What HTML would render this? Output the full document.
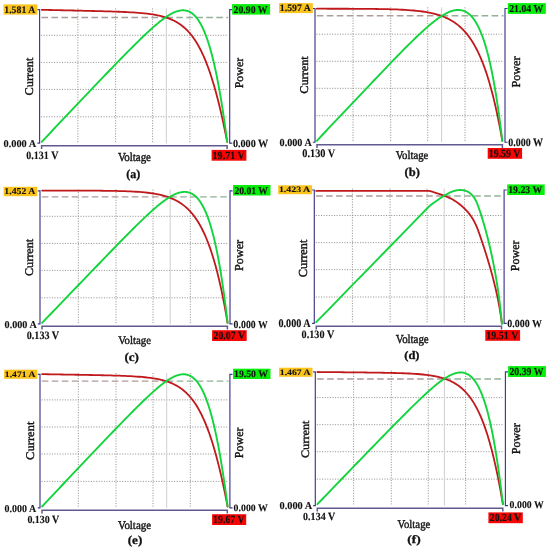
<!DOCTYPE html>
<html><head><meta charset="utf-8"><title>I-V and P-V curves</title>
<style>
html,body{margin:0;padding:0;background:#fff;}
body{width:549px;height:550px;overflow:hidden;}
svg{display:block;filter:blur(0.3px);}
svg text{font-family:"Liberation Serif",serif;font-size:200px;text-rendering:geometricPrecision;}
.tb{font-weight:bold;fill:#111;stroke:#111;stroke-width:2;}
.tc{font-weight:bold;fill:#111;stroke:#111;stroke-width:5;}
.tr{font-weight:normal;fill:#161616;stroke:#161616;stroke-width:7;}
.gd{stroke:#8d8a86;stroke-width:0.9;stroke-dasharray:1.1 1.5;fill:none;}
.dr{stroke:#ad9c9c;stroke-width:1.35;stroke-dasharray:6.6 3.4;fill:none;}
.dg{stroke:#94b097;stroke-width:1.35;stroke-dasharray:6.6 3.4;fill:none;}
.cr{stroke:#c0191c;stroke-width:1.8;fill:none;stroke-linejoin:round;stroke-linecap:round;}
.cg{stroke:#12d43c;stroke-width:1.9;fill:none;stroke-linejoin:round;stroke-linecap:round;}
.ax{stroke:#3e3889;stroke-width:1.15;fill:none;}
.bax{stroke:#605a92;stroke-width:1.5;fill:none;}
</style></head>
<body>
<svg width="549" height="550" viewBox="0 0 549 550">
<rect width="549" height="550" fill="#ffffff"/>
<line x1="77.90" y1="8.40" x2="77.90" y2="143.30" class="gd"/>
<line x1="115.60" y1="8.40" x2="115.60" y2="143.30" class="gd"/>
<line x1="152.60" y1="8.40" x2="152.60" y2="143.30" class="gd"/>
<line x1="189.90" y1="8.40" x2="189.90" y2="143.30" class="gd"/>
<line x1="41.10" y1="35.30" x2="228.20" y2="35.30" class="gd"/>
<line x1="41.10" y1="62.40" x2="228.20" y2="62.40" class="gd"/>
<line x1="41.10" y1="89.40" x2="228.20" y2="89.40" class="gd"/>
<line x1="41.10" y1="116.80" x2="228.20" y2="116.80" class="gd"/>
<line x1="166.30" y1="8.40" x2="166.30" y2="143.40" stroke="#cfcfcf" stroke-width="1"/>
<line x1="41.40" y1="17.50" x2="166.30" y2="17.50" class="dr"/>
<line x1="166.30" y1="17.50" x2="228.20" y2="17.50" class="dg"/>
<polyline points="41.70,9.83 44.55,9.89 47.41,9.95 50.26,10.02 53.12,10.08 55.97,10.14 58.82,10.20 61.68,10.26 64.53,10.33 67.38,10.39 70.24,10.45 73.09,10.52 75.95,10.58 78.80,10.64 81.65,10.71 84.51,10.78 87.36,10.84 90.22,10.91 93.07,10.98 95.92,11.06 98.78,11.13 101.63,11.21 104.48,11.29 107.34,11.37 110.19,11.46 113.05,11.55 115.90,11.65 118.75,11.75 121.61,11.87 124.46,11.99 127.32,12.13 130.17,12.28 133.02,12.45 135.88,12.64 138.73,12.85 141.58,13.10 144.44,13.37 147.29,13.69 150.15,14.06 153.00,14.48 153.62,14.58 154.25,14.69 154.87,14.80 155.49,14.91 156.12,15.02 156.74,15.14 157.36,15.27 157.99,15.40 158.61,15.53 159.24,15.66 159.86,15.81 160.48,15.95 161.11,16.10 161.73,16.26 162.35,16.42 162.98,16.59 163.60,16.76 164.22,16.94 164.85,17.13 165.47,17.32 166.09,17.52 166.72,17.72 167.34,17.93 167.96,18.15 168.59,18.38 169.21,18.62 169.84,18.86 170.46,19.11 171.08,19.37 171.71,19.64 172.33,19.92 172.95,20.21 173.58,20.51 174.20,20.82 174.82,21.15 175.45,21.48 176.07,21.82 176.69,22.18 177.32,22.55 177.94,22.93 178.56,23.32 179.19,23.73 179.81,24.15 180.44,24.59 181.06,25.04 181.68,25.50 182.31,25.99 182.93,26.48 183.55,27.00 184.18,27.53 184.80,28.08 185.42,28.65 186.05,29.24 186.67,29.85 187.29,30.48 187.92,31.13 188.54,31.80 189.16,32.49 189.79,33.21 190.41,33.95 191.04,34.71 191.66,35.49 192.28,36.31 192.91,37.14 193.53,38.01 194.15,38.90 194.78,39.82 195.40,40.77 196.02,41.74 196.65,42.75 197.27,43.79 197.89,44.86 198.52,45.96 199.14,47.09 199.76,48.26 200.39,49.46 201.01,50.69 201.64,51.97 202.26,53.27 202.88,54.62 203.51,56.00 204.13,57.42 204.75,58.88 205.38,60.38 206.00,61.92 206.62,63.49 207.25,65.12 207.87,66.78 208.49,68.49 209.12,70.24 209.74,72.03 210.36,73.87 210.99,75.75 211.61,77.68 212.24,79.66 212.86,81.68 213.48,83.75 214.11,85.86 214.73,88.03 215.35,90.24 215.98,92.50 216.60,94.82 217.22,97.18 217.85,99.59 218.47,102.05 219.09,104.56 219.72,107.12 220.34,109.74 220.96,112.40 221.59,115.12 222.21,117.89 222.84,120.71 223.46,123.58 224.08,126.50 224.71,129.48 225.33,132.50 225.95,135.58 226.58,138.72 227.20,141.90" class="cr"/>
<polyline points="41.70,141.90 44.55,138.86 47.41,135.82 50.26,132.78 53.12,129.75 55.97,126.72 58.82,123.69 61.68,120.67 64.53,117.65 67.38,114.63 70.24,111.61 73.09,108.60 75.95,105.59 78.80,102.59 81.65,99.58 84.51,96.58 87.36,93.59 90.22,90.59 93.07,87.61 95.92,84.62 98.78,81.64 101.63,78.66 104.48,75.69 107.34,72.73 110.19,69.77 113.05,66.82 115.90,63.87 118.75,60.94 121.61,58.01 124.46,55.10 127.32,52.20 130.17,49.32 133.02,46.46 135.88,43.62 138.73,40.81 141.58,38.03 144.44,35.29 147.29,32.60 150.15,29.97 153.00,27.41 153.62,26.86 154.25,26.31 154.87,25.77 155.49,25.23 156.12,24.70 156.74,24.17 157.36,23.65 157.99,23.13 158.61,22.62 159.24,22.11 159.86,21.61 160.48,21.12 161.11,20.63 161.73,20.15 162.35,19.67 162.98,19.20 163.60,18.74 164.22,18.29 164.85,17.85 165.47,17.41 166.09,16.98 166.72,16.56 167.34,16.15 167.96,15.75 168.59,15.36 169.21,14.99 169.84,14.62 170.46,14.26 171.08,13.91 171.71,13.58 172.33,13.26 172.95,12.95 173.58,12.66 174.20,12.38 174.82,12.12 175.45,11.87 176.07,11.63 176.69,11.42 177.32,11.22 177.94,11.04 178.56,10.87 179.19,10.73 179.81,10.60 180.44,10.50 181.06,10.42 181.68,10.35 182.31,10.32 182.93,10.30 183.55,10.31 184.18,10.35 184.80,10.41 185.42,10.50 186.05,10.61 186.67,10.76 187.29,10.93 187.92,11.14 188.54,11.37 189.16,11.64 189.79,11.95 190.41,12.29 191.04,12.66 191.66,13.08 192.28,13.53 192.91,14.02 193.53,14.55 194.15,15.13 194.78,15.74 195.40,16.41 196.02,17.11 196.65,17.87 197.27,18.67 197.89,19.53 198.52,20.43 199.14,21.39 199.76,22.40 200.39,23.47 201.01,24.59 201.64,25.77 202.26,27.02 202.88,28.32 203.51,29.68 204.13,31.11 204.75,32.61 205.38,34.17 206.00,35.80 206.62,37.50 207.25,39.28 207.87,41.12 208.49,43.04 209.12,45.04 209.74,47.11 210.36,49.26 210.99,51.49 211.61,53.81 212.24,56.20 212.86,58.68 213.48,61.25 214.11,63.90 214.73,66.64 215.35,69.48 215.98,72.40 216.60,75.41 217.22,78.52 217.85,81.73 218.47,85.03 219.09,88.42 219.72,91.92 220.34,95.51 220.96,99.21 221.59,103.00 222.21,106.90 222.84,110.91 223.46,115.01 224.08,119.23 224.71,123.54 225.33,127.97 225.95,132.50 226.58,137.15 227.20,141.90" class="cg"/>
<polyline points="37.40,9.60 39.60,9.60 39.60,143.10 37.40,143.10" class="ax"/>
<polyline points="232.30,9.60 229.70,9.60 229.70,143.10 232.30,143.10" class="ax"/>
<polyline points="41.60,149.00 41.60,145.80 227.10,145.80 227.10,149.00" class="bax"/>
<rect x="3.5" y="4.4" width="33.80" height="10.20" fill="#fbc31c"/>
<text transform="matrix(0.04919 0 0 0.05 4.21299 12.75)" class="tb">1.581 A</text>
<rect x="232.1" y="4.1" width="38.00" height="10.50" fill="#06ee0a"/>
<text transform="matrix(0.04891 0 0 0.05074 233.50876 12.64779)" class="tb">20.90 W</text>
<rect x="211.6" y="149.90" width="34.80" height="10.8" fill="#f70505"/>
<text transform="matrix(0.05016 0 0 0.05556 212.59743 158.93333)" class="tb">19.71 V</text>
<text transform="matrix(0.05128 0 0 0.05147 3.58974 147.14559)" class="tb">0.000 A</text>
<text transform="matrix(0.05016 0 0 0.05662 26.29873 158.53015)" class="tb">0.131 V</text>
<text transform="matrix(0.05066 0 0 0.05515 232.89474 147.13456)" class="tb">0.000 W</text>
<text transform="matrix(0.05442 0 0 0.06099 117.89115 160.67747)" class="tr">Voltage</text>
<text transform="matrix(0.06065 0 0 0.06154 126.15417 177.95385)" class="tc">(a)</text>
<text transform="matrix(0 -0.0619 0.05821 0 32.88358 95.49517)" class="tr">Current</text>
<text transform="matrix(0 -0.06004 0.05865 0 242.98271 88.36024)" class="tr">Power</text>
<line x1="353.00" y1="7.30" x2="353.00" y2="142.20" class="gd"/>
<line x1="390.70" y1="7.30" x2="390.70" y2="142.20" class="gd"/>
<line x1="427.70" y1="7.30" x2="427.70" y2="142.20" class="gd"/>
<line x1="465.00" y1="7.30" x2="465.00" y2="142.20" class="gd"/>
<line x1="316.50" y1="34.20" x2="503.50" y2="34.20" class="gd"/>
<line x1="316.50" y1="61.30" x2="503.50" y2="61.30" class="gd"/>
<line x1="316.50" y1="88.30" x2="503.50" y2="88.30" class="gd"/>
<line x1="316.50" y1="115.70" x2="503.50" y2="115.70" class="gd"/>
<line x1="441.60" y1="7.30" x2="441.60" y2="142.30" stroke="#cfcfcf" stroke-width="1"/>
<line x1="316.80" y1="15.70" x2="441.60" y2="15.70" class="dr"/>
<line x1="441.60" y1="15.70" x2="503.50" y2="15.70" class="dg"/>
<polyline points="316.80,8.71 319.65,8.72 322.51,8.72 325.36,8.72 328.22,8.73 331.07,8.73 333.92,8.73 336.78,8.74 339.63,8.74 342.48,8.75 345.34,8.76 348.19,8.77 351.05,8.78 353.90,8.79 356.75,8.80 359.61,8.82 362.46,8.84 365.32,8.86 368.17,8.89 371.02,8.91 373.88,8.95 376.73,8.98 379.58,9.03 382.44,9.08 385.29,9.14 388.15,9.20 391.00,9.28 393.85,9.37 396.71,9.47 399.56,9.59 402.42,9.73 405.27,9.89 408.12,10.07 410.98,10.28 413.83,10.52 416.68,10.80 419.54,11.12 422.39,11.50 425.25,11.92 428.10,12.42 428.72,12.53 429.35,12.66 429.97,12.78 430.59,12.91 431.22,13.04 431.84,13.18 432.46,13.32 433.09,13.47 433.71,13.62 434.34,13.77 434.96,13.93 435.58,14.10 436.21,14.27 436.83,14.44 437.45,14.63 438.08,14.81 438.70,15.00 439.32,15.20 439.95,15.41 440.57,15.62 441.19,15.84 441.82,16.06 442.44,16.29 443.06,16.53 443.69,16.78 444.31,17.03 444.94,17.29 445.56,17.56 446.18,17.84 446.81,18.13 447.43,18.43 448.05,18.73 448.68,19.05 449.30,19.37 449.92,19.71 450.55,20.05 451.17,20.41 451.79,20.77 452.42,21.15 453.04,21.54 453.66,21.94 454.29,22.35 454.91,22.78 455.54,23.22 456.16,23.67 456.78,24.14 457.41,24.62 458.03,25.12 458.65,25.63 459.28,26.16 459.90,26.70 460.52,27.26 461.15,27.84 461.77,28.43 462.39,29.04 463.02,29.67 463.64,30.32 464.26,30.99 464.89,31.68 465.51,32.39 466.14,33.12 466.76,33.87 467.38,34.65 468.01,35.45 468.63,36.27 469.25,37.12 469.88,37.99 470.50,38.89 471.12,39.82 471.75,40.77 472.37,41.75 472.99,42.76 473.62,43.80 474.24,44.87 474.86,45.97 475.49,47.10 476.11,48.27 476.74,49.47 477.36,50.70 477.98,51.97 478.61,53.28 479.23,54.62 479.85,56.00 480.48,57.42 481.10,58.89 481.72,60.39 482.35,61.93 482.97,63.52 483.59,65.16 484.22,66.84 484.84,68.56 485.46,70.34 486.09,72.16 486.71,74.03 487.34,75.96 487.96,77.93 488.58,79.96 489.21,82.05 489.83,84.19 490.45,86.39 491.08,88.65 491.70,90.96 492.32,93.34 492.95,95.78 493.57,98.29 494.19,100.86 494.82,103.49 495.44,106.20 496.06,108.97 496.69,111.81 497.31,114.73 497.94,117.72 498.56,120.78 499.18,123.92 499.81,127.13 500.43,130.43 501.05,133.80 501.68,137.26 502.30,140.80" class="cr"/>
<polyline points="316.80,140.80 319.65,137.78 322.51,134.76 325.36,131.74 328.22,128.72 331.07,125.71 333.92,122.69 336.78,119.67 339.63,116.65 342.48,113.64 345.34,110.62 348.19,107.60 351.05,104.59 353.90,101.58 356.75,98.56 359.61,95.55 362.46,92.54 365.32,89.53 368.17,86.53 371.02,83.53 373.88,80.53 376.73,77.53 379.58,74.54 382.44,71.55 385.29,68.58 388.15,65.60 391.00,62.64 393.85,59.69 396.71,56.75 399.56,53.83 402.42,50.93 405.27,48.04 408.12,45.18 410.98,42.35 413.83,39.56 416.68,36.80 419.54,34.10 422.39,31.45 425.25,28.86 428.10,26.36 428.72,25.82 429.35,25.29 429.97,24.76 430.59,24.24 431.22,23.73 431.84,23.21 432.46,22.71 433.09,22.21 433.71,21.71 434.34,21.22 434.96,20.74 435.58,20.26 436.21,19.79 436.83,19.33 437.45,18.88 438.08,18.43 438.70,17.99 439.32,17.55 439.95,17.13 440.57,16.71 441.19,16.30 441.82,15.90 442.44,15.51 443.06,15.13 443.69,14.76 444.31,14.40 444.94,14.05 445.56,13.72 446.18,13.39 446.81,13.07 447.43,12.77 448.05,12.48 448.68,12.20 449.30,11.94 449.92,11.69 450.55,11.45 451.17,11.23 451.79,11.03 452.42,10.84 453.04,10.67 453.66,10.51 454.29,10.37 454.91,10.25 455.54,10.15 456.16,10.07 456.78,10.01 457.41,9.97 458.03,9.95 458.65,9.95 459.28,9.98 459.90,10.03 460.52,10.10 461.15,10.20 461.77,10.33 462.39,10.48 463.02,10.66 463.64,10.87 464.26,11.11 464.89,11.38 465.51,11.68 466.14,12.01 466.76,12.38 467.38,12.78 468.01,13.22 468.63,13.69 469.25,14.21 469.88,14.76 470.50,15.35 471.12,15.99 471.75,16.66 472.37,17.39 472.99,18.15 473.62,18.97 474.24,19.83 474.86,20.75 475.49,21.71 476.11,22.73 476.74,23.81 477.36,24.94 477.98,26.13 478.61,27.38 479.23,28.69 479.85,30.06 480.48,31.50 481.10,33.01 481.72,34.59 482.35,36.23 482.97,37.96 483.59,39.75 484.22,41.63 484.84,43.58 485.46,45.61 486.09,47.73 486.71,49.94 487.34,52.23 487.96,54.62 488.58,57.10 489.21,59.68 489.83,62.35 490.45,65.12 491.08,68.00 491.70,70.99 492.32,74.08 492.95,77.29 493.57,80.61 494.19,84.05 494.82,87.61 495.44,91.29 496.06,95.10 496.69,99.04 497.31,103.11 497.94,107.31 498.56,111.66 499.18,116.14 499.81,120.77 500.43,125.55 501.05,130.48 501.68,135.56 502.30,140.80" class="cg"/>
<polyline points="312.80,8.50 315.00,8.50 315.00,142.20 312.80,142.20" class="ax"/>
<polyline points="507.60,8.50 505.00,8.50 505.00,142.20 507.60,142.20" class="ax"/>
<polyline points="317.00,147.90 317.00,144.70 502.40,144.70 502.40,147.90" class="bax"/>
<rect x="279.1" y="3.1" width="33.70" height="10.00" fill="#fbc31c"/>
<text transform="matrix(0.04903 0 0 0.04889 279.81558 11.25333)" class="tb">1.597 A</text>
<rect x="507.8" y="3.1" width="38.00" height="10.80" fill="#06ee0a"/>
<text transform="matrix(0.04891 0 0 0.05294 509.20876 11.94118)" class="tb">21.04 W</text>
<rect x="487.7" y="148.00" width="34.40" height="10.8" fill="#f70505"/>
<text transform="matrix(0.04952 0 0 0.05556 488.70772 157.03333)" class="tb">19.59 V</text>
<text transform="matrix(0.0508 0 0 0.05515 279.59359 145.63456)" class="tb">0.000 A</text>
<text transform="matrix(0.05143 0 0 0.05735 302.28857 156.72794)" class="tb">0.130 V</text>
<text transform="matrix(0.04964 0 0 0.05662 508.30292 145.83015)" class="tb">0.000 W</text>
<text transform="matrix(0.05376 0 0 0.05934 395.69249 159.34835)" class="tr">Voltage</text>
<text transform="matrix(0.06256 0 0 0.06099 404.537 176.27747)" class="tc">(b)</text>
<text transform="matrix(0 -0.0614 0.05821 0 307.68358 93.79118)" class="tr">Current</text>
<text transform="matrix(0 -0.06064 0.06015 0 520.0797 87.56382)" class="tr">Power</text>
<line x1="78.30" y1="189.40" x2="78.30" y2="324.30" class="gd"/>
<line x1="116.00" y1="189.40" x2="116.00" y2="324.30" class="gd"/>
<line x1="153.00" y1="189.40" x2="153.00" y2="324.30" class="gd"/>
<line x1="190.30" y1="189.40" x2="190.30" y2="324.30" class="gd"/>
<line x1="41.50" y1="216.30" x2="228.50" y2="216.30" class="gd"/>
<line x1="41.50" y1="243.40" x2="228.50" y2="243.40" class="gd"/>
<line x1="41.50" y1="270.40" x2="228.50" y2="270.40" class="gd"/>
<line x1="41.50" y1="297.80" x2="228.50" y2="297.80" class="gd"/>
<line x1="170.20" y1="189.40" x2="170.20" y2="324.40" stroke="#cfcfcf" stroke-width="1"/>
<line x1="41.80" y1="196.90" x2="170.20" y2="196.90" class="dr"/>
<line x1="170.20" y1="196.90" x2="228.50" y2="196.90" class="dg"/>
<polyline points="42.10,190.57 44.95,190.57 47.81,190.57 50.66,190.58 53.52,190.58 56.37,190.58 59.22,190.58 62.08,190.59 64.93,190.59 67.78,190.59 70.64,190.60 73.49,190.60 76.35,190.61 79.20,190.62 82.05,190.63 84.91,190.64 87.76,190.65 90.62,190.67 93.47,190.68 96.32,190.70 99.18,190.72 102.03,190.75 104.88,190.78 107.74,190.82 110.59,190.86 113.45,190.91 116.30,190.97 119.15,191.03 122.01,191.11 124.86,191.20 127.72,191.31 130.57,191.43 133.42,191.57 136.28,191.74 139.13,191.93 141.98,192.16 144.84,192.43 147.69,192.74 150.55,193.09 153.40,193.51 154.02,193.61 154.65,193.72 155.27,193.82 155.89,193.94 156.52,194.05 157.14,194.17 157.76,194.29 158.39,194.42 159.01,194.55 159.64,194.68 160.26,194.82 160.88,194.97 161.51,195.12 162.13,195.27 162.75,195.43 163.38,195.60 164.00,195.77 164.62,195.94 165.25,196.13 165.87,196.31 166.49,196.51 167.12,196.71 167.74,196.92 168.36,197.13 168.99,197.36 169.61,197.58 170.24,197.82 170.86,198.07 171.48,198.32 172.11,198.58 172.73,198.85 173.35,199.13 173.98,199.42 174.60,199.72 175.22,200.03 175.85,200.35 176.47,200.68 177.09,201.02 177.72,201.37 178.34,201.73 178.96,202.11 179.59,202.49 180.21,202.89 180.84,203.31 181.46,203.73 182.08,204.17 182.71,204.63 183.33,205.10 183.95,205.59 184.58,206.09 185.20,206.61 185.82,207.14 186.45,207.69 187.07,208.26 187.69,208.85 188.32,209.46 188.94,210.09 189.56,210.73 190.19,211.40 190.81,212.09 191.44,212.80 192.06,213.54 192.68,214.30 193.31,215.08 193.93,215.88 194.55,216.72 195.18,217.58 195.80,218.46 196.42,219.37 197.05,220.32 197.67,221.29 198.29,222.29 198.92,223.32 199.54,224.39 200.16,225.49 200.79,226.62 201.41,227.79 202.04,228.99 202.66,230.23 203.28,231.50 203.91,232.82 204.53,234.17 205.15,235.57 205.78,237.01 206.40,238.49 207.02,240.01 207.65,241.58 208.27,243.20 208.89,244.86 209.52,246.57 210.14,248.33 210.76,250.14 211.39,252.01 212.01,253.92 212.64,255.90 213.26,257.92 213.88,260.01 214.51,262.15 215.13,264.35 215.75,266.61 216.38,268.94 217.00,271.33 217.62,273.78 218.25,276.30 218.87,278.89 219.49,281.54 220.12,284.26 220.74,287.06 221.36,289.93 221.99,292.87 222.61,295.89 223.24,298.98 223.86,302.16 224.48,305.41 225.11,308.74 225.73,312.15 226.35,315.65 226.98,319.23 227.60,322.90" class="cr"/>
<polyline points="42.10,322.90 44.95,319.93 47.81,316.96 50.66,313.98 53.52,311.01 56.37,308.04 59.22,305.07 62.08,302.10 64.93,299.12 67.78,296.15 70.64,293.18 73.49,290.21 76.35,287.24 79.20,284.27 82.05,281.30 84.91,278.34 87.76,275.37 90.62,272.40 93.47,269.44 96.32,266.48 99.18,263.52 102.03,260.56 104.88,257.61 107.74,254.66 110.59,251.72 113.45,248.78 116.30,245.85 119.15,242.92 122.01,240.01 124.86,237.11 127.72,234.22 130.57,231.35 133.42,228.50 136.28,225.68 139.13,222.88 141.98,220.12 144.84,217.39 147.69,214.72 150.55,212.10 153.40,209.55 154.02,209.01 154.65,208.46 155.27,207.93 155.89,207.39 156.52,206.86 157.14,206.34 157.76,205.82 158.39,205.30 159.01,204.79 159.64,204.29 160.26,203.79 160.88,203.29 161.51,202.81 162.13,202.32 162.75,201.85 163.38,201.38 164.00,200.92 164.62,200.47 165.25,200.02 165.87,199.58 166.49,199.15 167.12,198.73 167.74,198.31 168.36,197.91 168.99,197.51 169.61,197.13 170.24,196.75 170.86,196.39 171.48,196.03 172.11,195.69 172.73,195.36 173.35,195.04 173.98,194.73 174.60,194.44 175.22,194.15 175.85,193.89 176.47,193.63 177.09,193.40 177.72,193.17 178.34,192.97 178.96,192.77 179.59,192.60 180.21,192.44 180.84,192.31 181.46,192.19 182.08,192.09 182.71,192.01 183.33,191.95 183.95,191.92 184.58,191.90 185.20,191.91 185.82,191.95 186.45,192.01 187.07,192.09 187.69,192.20 188.32,192.34 188.94,192.51 189.56,192.71 190.19,192.94 190.81,193.20 191.44,193.49 192.06,193.82 192.68,194.18 193.31,194.58 193.93,195.01 194.55,195.49 195.18,196.00 195.80,196.55 196.42,197.15 197.05,197.79 197.67,198.48 198.29,199.21 198.92,199.99 199.54,200.82 200.16,201.71 200.79,202.64 201.41,203.63 202.04,204.68 202.66,205.79 203.28,206.95 203.91,208.18 204.53,209.47 205.15,210.82 205.78,212.25 206.40,213.74 207.02,215.30 207.65,216.94 208.27,218.66 208.89,220.45 209.52,222.32 210.14,224.27 210.76,226.31 211.39,228.44 212.01,230.65 212.64,232.96 213.26,235.36 213.88,237.86 214.51,240.46 215.13,243.16 215.75,245.97 216.38,248.88 217.00,251.90 217.62,255.04 218.25,258.29 218.87,261.66 219.49,265.15 220.12,268.77 220.74,272.51 221.36,276.38 221.99,280.38 222.61,284.52 223.24,288.80 223.86,293.23 224.48,297.79 225.11,302.51 225.73,307.37 226.35,312.39 226.98,317.56 227.60,322.90" class="cg"/>
<polyline points="37.80,190.80 40.00,190.80 40.00,323.90 37.80,323.90" class="ax"/>
<polyline points="232.60,190.80 230.00,190.80 230.00,323.90 232.60,323.90" class="ax"/>
<polyline points="42.00,329.40 42.00,326.20 227.40,326.20 227.40,329.40" class="bax"/>
<rect x="3.6" y="186.8" width="33.70" height="9.40" fill="#fbc31c"/>
<text transform="matrix(0.04903 0 0 0.04444 4.31558 194.36667)" class="tb">1.452 A</text>
<rect x="233.0" y="185.0" width="37.50" height="10.50" fill="#06ee0a"/>
<text transform="matrix(0.04818 0 0 0.05074 234.4146 193.54779)" class="tb">20.01 W</text>
<rect x="212.1" y="330.20" width="34.60" height="10.8" fill="#f70505"/>
<text transform="matrix(0.04921 0 0 0.05515 213.50635 339.23456)" class="tb">20.07 V</text>
<text transform="matrix(0.0508 0 0 0.05294 4.59359 327.64118)" class="tb">0.000 A</text>
<text transform="matrix(0.05032 0 0 0.05662 26.79746 339.23015)" class="tb">0.133 V</text>
<text transform="matrix(0.0492 0 0 0.05368 233.60642 327.83897)" class="tb">0.000 W</text>
<text transform="matrix(0.05392 0 0 0.05769 118.19215 343.61923)" class="tr">Voltage</text>
<text transform="matrix(0.0652 0 0 0.06099 124.41324 360.67747)" class="tc">(c)</text>
<text transform="matrix(0 -0.06073 0.05896 0 32.68209 275.98586)" class="tr">Current</text>
<text transform="matrix(0 -0.06083 0.0609 0 243.2782 270.96501)" class="tr">Power</text>
<line x1="352.40" y1="188.60" x2="352.40" y2="323.50" class="gd"/>
<line x1="390.10" y1="188.60" x2="390.10" y2="323.50" class="gd"/>
<line x1="427.10" y1="188.60" x2="427.10" y2="323.50" class="gd"/>
<line x1="464.40" y1="188.60" x2="464.40" y2="323.50" class="gd"/>
<line x1="315.80" y1="215.50" x2="502.60" y2="215.50" class="gd"/>
<line x1="315.80" y1="242.60" x2="502.60" y2="242.60" class="gd"/>
<line x1="315.80" y1="269.60" x2="502.60" y2="269.60" class="gd"/>
<line x1="315.80" y1="297.00" x2="502.60" y2="297.00" class="gd"/>
<line x1="444.20" y1="188.60" x2="444.20" y2="323.60" stroke="#cfcfcf" stroke-width="1"/>
<line x1="316.10" y1="196.00" x2="444.20" y2="196.00" class="dr"/>
<line x1="444.20" y1="196.00" x2="502.60" y2="196.00" class="dg"/>
<polyline points="316.20,190.90 328.54,190.90 340.89,190.90 353.23,190.90 365.58,190.90 377.92,190.90 390.27,190.90 402.61,190.90 414.96,190.90 427.30,190.90 427.77,190.90 428.24,190.90 428.71,190.92 429.18,190.97 429.65,191.03 430.12,191.12 430.58,191.22 431.05,191.34 431.52,191.47 431.99,191.61 432.46,191.76 432.93,191.92 433.40,192.08 433.87,192.25 434.34,192.41 434.81,192.58 435.28,192.74 435.75,192.89 436.21,193.04 436.68,193.18 437.15,193.32 437.62,193.46 438.09,193.61 438.56,193.75 439.03,193.90 439.50,194.05 439.97,194.21 440.44,194.36 440.91,194.52 441.38,194.68 441.84,194.84 442.31,195.00 442.78,195.17 443.25,195.34 443.72,195.51 444.19,195.69 444.66,195.87 445.13,196.05 445.60,196.24 446.07,196.43 446.54,196.62 447.01,196.82 447.47,197.02 447.94,197.23 448.41,197.44 448.88,197.65 449.35,197.87 449.82,198.09 450.29,198.32 450.76,198.56 451.23,198.80 451.70,199.04 452.17,199.29 452.64,199.55 453.11,199.81 453.57,200.08 454.04,200.36 454.51,200.65 454.98,200.94 455.45,201.24 455.92,201.55 456.39,201.87 456.86,202.19 457.33,202.52 457.80,202.86 458.27,203.21 458.74,203.57 459.20,203.93 459.67,204.30 460.14,204.68 460.61,205.06 461.08,205.45 461.55,205.85 462.02,206.26 462.49,206.67 462.96,207.10 463.43,207.53 463.90,207.97 464.37,208.42 464.83,208.88 465.30,209.35 465.77,209.83 466.24,210.33 466.71,210.83 467.18,211.35 467.65,211.88 468.12,212.43 468.59,213.00 469.06,213.58 469.53,214.18 470.00,214.79 470.46,215.43 470.93,216.09 471.40,216.77 471.87,217.48 472.34,218.21 472.81,218.98 473.28,219.77 473.75,220.60 474.22,221.46 474.69,222.36 475.16,223.30 475.63,224.29 476.09,225.32 476.56,226.40 477.03,227.53 477.50,228.71 477.97,229.94 478.44,231.21 478.91,232.52 479.38,233.86 479.85,235.22 480.32,236.59 480.79,237.96 481.26,239.35 481.73,240.74 482.19,242.14 482.66,243.55 483.13,244.97 483.60,246.40 484.07,247.84 484.54,249.30 485.01,250.76 485.48,252.24 485.95,253.73 486.42,255.23 486.89,256.75 487.36,258.28 487.82,259.83 488.29,261.39 488.76,262.97 489.23,264.57 489.70,266.18 490.17,267.82 490.64,269.48 491.11,271.16 491.58,272.86 492.05,274.59 492.52,276.35 492.99,278.13 493.45,279.95 493.92,281.79 494.39,283.68 494.86,285.60 495.33,287.56 495.80,289.57 496.27,291.62 496.74,293.73 497.21,295.90 497.68,298.13 498.15,300.44 498.62,302.83 499.08,305.31 499.55,307.90 500.02,310.62 500.49,313.49 500.96,316.54 501.43,319.83 501.90,323.40" class="cr"/>
<polyline points="316.20,322.20 328.54,309.54 340.89,296.87 353.23,284.21 365.58,271.55 377.92,258.88 390.27,246.22 402.61,233.56 414.96,220.89 427.30,208.23 427.77,207.75 428.24,207.27 428.71,206.80 429.18,206.36 429.65,205.94 430.12,205.53 430.58,205.14 431.05,204.77 431.52,204.41 431.99,204.06 432.46,203.72 432.93,203.38 433.40,203.05 433.87,202.73 434.34,202.40 434.81,202.08 435.28,201.76 435.75,201.43 436.21,201.09 436.68,200.75 437.15,200.41 437.62,200.07 438.09,199.74 438.56,199.41 439.03,199.08 439.50,198.75 439.97,198.43 440.44,198.11 440.91,197.79 441.38,197.48 441.84,197.17 442.31,196.87 442.78,196.57 443.25,196.27 443.72,195.98 444.19,195.69 444.66,195.41 445.13,195.13 445.60,194.85 446.07,194.59 446.54,194.32 447.01,194.06 447.47,193.81 447.94,193.56 448.41,193.32 448.88,193.08 449.35,192.85 449.82,192.63 450.29,192.42 450.76,192.21 451.23,192.01 451.70,191.82 452.17,191.64 452.64,191.46 453.11,191.29 453.57,191.13 454.04,190.98 454.51,190.85 454.98,190.72 455.45,190.60 455.92,190.50 456.39,190.40 456.86,190.31 457.33,190.24 457.80,190.18 458.27,190.13 458.74,190.09 459.20,190.06 459.67,190.04 460.14,190.03 460.61,190.03 461.08,190.05 461.55,190.07 462.02,190.11 462.49,190.16 462.96,190.22 463.43,190.29 463.90,190.38 464.37,190.48 464.83,190.60 465.30,190.74 465.77,190.88 466.24,191.05 466.71,191.24 467.18,191.44 467.65,191.67 468.12,191.91 468.59,192.18 469.06,192.47 469.53,192.79 470.00,193.14 470.46,193.51 470.93,193.92 471.40,194.36 471.87,194.83 472.34,195.34 472.81,195.90 473.28,196.49 473.75,197.13 474.22,197.83 474.69,198.57 475.16,199.38 475.63,200.24 476.09,201.18 476.56,202.17 477.03,203.24 477.50,204.38 477.97,205.59 478.44,206.87 478.91,208.20 479.38,209.58 479.85,210.99 480.32,212.42 480.79,213.88 481.26,215.35 481.73,216.85 482.19,218.37 482.66,219.91 483.13,221.48 483.60,223.06 484.07,224.68 484.54,226.32 485.01,227.98 485.48,229.67 485.95,231.39 486.42,233.14 486.89,234.91 487.36,236.72 487.82,238.56 488.29,240.44 488.76,242.34 489.23,244.29 489.70,246.27 490.17,248.29 490.64,250.35 491.11,252.45 491.58,254.60 492.05,256.79 492.52,259.03 492.99,261.33 493.45,263.68 493.92,266.09 494.39,268.57 494.86,271.11 495.33,273.72 495.80,276.41 496.27,279.18 496.74,282.04 497.21,285.00 497.68,288.07 498.15,291.26 498.62,294.59 499.08,298.07 499.55,301.72 500.02,305.57 500.49,309.66 500.96,314.04 501.43,318.76 501.90,323.93" class="cg"/>
<polyline points="312.10,190.00 314.30,190.00 314.30,323.30 312.10,323.30" class="ax"/>
<polyline points="506.70,190.00 504.10,190.00 504.10,323.30 506.70,323.30" class="ax"/>
<polyline points="316.30,329.40 316.30,326.20 501.50,326.20 501.50,329.40" class="bax"/>
<rect x="278.2" y="185.3" width="33.90" height="8.90" fill="#fbc31c"/>
<text transform="matrix(0.04935 0 0 0.04074 278.91039 192.37778)" class="tb">1.423 A</text>
<rect x="507.2" y="184.4" width="37.50" height="10.60" fill="#06ee0a"/>
<text transform="matrix(0.04874 0 0 0.05185 508.22009 193.04444)" class="tb">19.23 W</text>
<rect x="485.3" y="330.00" width="34.80" height="10.8" fill="#f70505"/>
<text transform="matrix(0.05016 0 0 0.05556 486.29743 339.03333)" class="tb">19.51 V</text>
<text transform="matrix(0.0508 0 0 0.05735 278.49359 327.02794)" class="tb">0.000 A</text>
<text transform="matrix(0.05111 0 0 0.05662 301.59111 338.23015)" class="tb">0.130 V</text>
<text transform="matrix(0.04964 0 0 0.05368 507.30292 327.13897)" class="tb">0.000 W</text>
<text transform="matrix(0.05426 0 0 0.06044 395.69149 342.8011)" class="tr">Voltage</text>
<text transform="matrix(0.06211 0 0 0.05769 404.24097 358.61923)" class="tc">(d)</text>
<text transform="matrix(0 -0.0614 0.06119 0 307.47761 277.19118)" class="tr">Current</text>
<text transform="matrix(0 -0.06004 0.0609 0 518.7782 271.16024)" class="tr">Power</text>
<line x1="78.30" y1="373.00" x2="78.30" y2="507.90" class="gd"/>
<line x1="116.00" y1="373.00" x2="116.00" y2="507.90" class="gd"/>
<line x1="153.00" y1="373.00" x2="153.00" y2="507.90" class="gd"/>
<line x1="190.30" y1="373.00" x2="190.30" y2="507.90" class="gd"/>
<line x1="41.50" y1="399.90" x2="228.40" y2="399.90" class="gd"/>
<line x1="41.50" y1="427.00" x2="228.40" y2="427.00" class="gd"/>
<line x1="41.50" y1="454.00" x2="228.40" y2="454.00" class="gd"/>
<line x1="41.50" y1="481.40" x2="228.40" y2="481.40" class="gd"/>
<line x1="166.70" y1="373.00" x2="166.70" y2="508.00" stroke="#cfcfcf" stroke-width="1"/>
<line x1="41.80" y1="381.10" x2="166.70" y2="381.10" class="dr"/>
<line x1="166.70" y1="381.10" x2="228.40" y2="381.10" class="dg"/>
<polyline points="42.10,374.16 44.95,374.21 47.81,374.26 50.66,374.30 53.52,374.35 56.37,374.40 59.22,374.45 62.08,374.49 64.93,374.54 67.78,374.59 70.64,374.64 73.49,374.69 76.35,374.74 79.20,374.79 82.05,374.84 84.91,374.90 87.76,374.95 90.62,375.00 93.47,375.06 96.32,375.12 99.18,375.18 102.03,375.24 104.88,375.31 107.74,375.38 110.59,375.45 113.45,375.53 116.30,375.62 119.15,375.71 122.01,375.82 124.86,375.93 127.72,376.05 130.57,376.19 133.42,376.35 136.28,376.53 139.13,376.73 141.98,376.97 144.84,377.24 147.69,377.55 150.55,377.90 153.40,378.32 154.02,378.42 154.65,378.52 155.27,378.63 155.89,378.74 156.52,378.85 157.14,378.97 157.76,379.09 158.39,379.22 159.01,379.35 159.64,379.49 160.26,379.63 160.88,379.77 161.51,379.92 162.13,380.08 162.75,380.24 163.38,380.40 164.00,380.58 164.62,380.75 165.25,380.94 165.87,381.13 166.49,381.33 167.12,381.53 167.74,381.74 168.36,381.96 168.99,382.19 169.61,382.42 170.24,382.67 170.86,382.92 171.48,383.18 172.11,383.45 172.73,383.73 173.35,384.01 173.98,384.31 174.60,384.62 175.22,384.94 175.85,385.27 176.47,385.62 177.09,385.97 177.72,386.34 178.34,386.72 178.96,387.11 179.59,387.52 180.21,387.94 180.84,388.38 181.46,388.83 182.08,389.29 182.71,389.77 183.33,390.27 183.95,390.79 184.58,391.32 185.20,391.87 185.82,392.44 186.45,393.02 187.07,393.63 187.69,394.26 188.32,394.91 188.94,395.58 189.56,396.27 190.19,396.98 190.81,397.72 191.44,398.48 192.06,399.27 192.68,400.08 193.31,400.92 193.93,401.78 194.55,402.67 195.18,403.59 195.80,404.54 196.42,405.52 197.05,406.52 197.67,407.56 198.29,408.63 198.92,409.73 199.54,410.86 200.16,412.03 200.79,413.23 201.41,414.47 202.04,415.74 202.66,417.05 203.28,418.40 203.91,419.79 204.53,421.21 205.15,422.67 205.78,424.17 206.40,425.72 207.02,427.30 207.65,428.93 208.27,430.60 208.89,432.31 209.52,434.07 210.14,435.87 210.76,437.72 211.39,439.61 212.01,441.55 212.64,443.54 213.26,445.58 213.88,447.66 214.51,449.79 215.13,451.97 215.75,454.20 216.38,456.49 217.00,458.82 217.62,461.20 218.25,463.63 218.87,466.12 219.49,468.66 220.12,471.25 220.74,473.89 221.36,476.59 221.99,479.34 222.61,482.14 223.24,484.99 223.86,487.90 224.48,490.87 225.11,493.89 225.73,496.96 226.35,500.08 226.98,503.27 227.60,506.50" class="cr"/>
<polyline points="42.10,506.50 44.95,503.46 47.81,500.42 50.66,497.38 53.52,494.35 56.37,491.32 59.22,488.29 62.08,485.26 64.93,482.23 67.78,479.21 70.64,476.19 73.49,473.17 76.35,470.15 79.20,467.14 82.05,464.13 84.91,461.12 87.76,458.12 90.62,455.11 93.47,452.11 96.32,449.12 99.18,446.12 102.03,443.14 104.88,440.15 107.74,437.17 110.59,434.20 113.45,431.23 116.30,428.28 119.15,425.32 122.01,422.38 124.86,419.46 127.72,416.54 130.57,413.64 133.42,410.76 136.28,407.91 139.13,405.08 141.98,402.28 144.84,399.53 147.69,396.82 150.55,394.17 153.40,391.58 154.02,391.03 154.65,390.48 155.27,389.94 155.89,389.39 156.52,388.86 157.14,388.33 157.76,387.80 158.39,387.28 159.01,386.76 159.64,386.25 160.26,385.75 160.88,385.25 161.51,384.76 162.13,384.27 162.75,383.79 163.38,383.32 164.00,382.85 164.62,382.40 165.25,381.95 165.87,381.51 166.49,381.08 167.12,380.65 167.74,380.24 168.36,379.84 168.99,379.44 169.61,379.06 170.24,378.69 170.86,378.33 171.48,377.98 172.11,377.64 172.73,377.32 173.35,377.00 173.98,376.71 174.60,376.42 175.22,376.15 175.85,375.90 176.47,375.66 177.09,375.44 177.72,375.24 178.34,375.05 178.96,374.88 179.59,374.73 180.21,374.60 180.84,374.49 181.46,374.41 182.08,374.34 182.71,374.30 183.33,374.28 183.95,374.28 184.58,374.31 185.20,374.37 185.82,374.45 186.45,374.56 187.07,374.70 187.69,374.87 188.32,375.07 188.94,375.30 189.56,375.57 190.19,375.86 190.81,376.20 191.44,376.57 192.06,376.97 192.68,377.42 193.31,377.91 193.93,378.43 194.55,379.00 195.18,379.61 195.80,380.27 196.42,380.97 197.05,381.72 197.67,382.52 198.29,383.37 198.92,384.26 199.54,385.22 200.16,386.22 200.79,387.29 201.41,388.40 202.04,389.58 202.66,390.82 203.28,392.12 203.91,393.48 204.53,394.91 205.15,396.40 205.78,397.96 206.40,399.59 207.02,401.29 207.65,403.06 208.27,404.91 208.89,406.83 209.52,408.83 210.14,410.90 210.76,413.06 211.39,415.29 212.01,417.61 212.64,420.02 213.26,422.51 213.88,425.08 214.51,427.75 215.13,430.50 215.75,433.35 216.38,436.29 217.00,439.32 217.62,442.45 218.25,445.68 218.87,449.00 219.49,452.43 220.12,455.95 220.74,459.58 221.36,463.31 221.99,467.14 222.61,471.08 223.24,475.12 223.86,479.28 224.48,483.54 225.11,487.91 225.73,492.39 226.35,496.98 226.98,501.68 227.60,506.50" class="cg"/>
<polyline points="37.80,374.40 40.00,374.40 40.00,507.90 37.80,507.90" class="ax"/>
<polyline points="232.50,374.40 229.90,374.40 229.90,507.90 232.50,507.90" class="ax"/>
<polyline points="42.00,513.50 42.00,510.30 227.30,510.30 227.30,513.50" class="bax"/>
<rect x="4.1" y="369.7" width="33.20" height="9.10" fill="#fbc31c"/>
<text transform="matrix(0.04821 0 0 0.04222 4.82857 376.97333)" class="tb">1.471 A</text>
<rect x="233.0" y="368.7" width="37.50" height="10.30" fill="#06ee0a"/>
<text transform="matrix(0.04874 0 0 0.04926 234.02009 377.05221)" class="tb">19.50 W</text>
<rect x="212.1" y="514.20" width="34.10" height="10.8" fill="#f70505"/>
<text transform="matrix(0.04904 0 0 0.05556 213.11543 523.23333)" class="tb">19.67 V</text>
<text transform="matrix(0.04984 0 0 0.05294 4.60128 511.64118)" class="tb">0.000 A</text>
<text transform="matrix(0.04937 0 0 0.05515 27.40508 523.03456)" class="tb">0.130 V</text>
<text transform="matrix(0.0492 0 0 0.04926 233.60642 510.85221)" class="tb">0.000 W</text>
<text transform="matrix(0.05426 0 0 0.05824 117.99149 529.0956)" class="tr">Voltage</text>
<text transform="matrix(0.06569 0 0 0.06099 127.70882 543.57747)" class="tc">(e)</text>
<text transform="matrix(0 -0.06273 0.05821 0 33.78358 459.90183)" class="tr">Current</text>
<text transform="matrix(0 -0.06004 0.06015 0 242.9797 458.16024)" class="tr">Power</text>
<line x1="353.60" y1="370.70" x2="353.60" y2="505.60" class="gd"/>
<line x1="391.30" y1="370.70" x2="391.30" y2="505.60" class="gd"/>
<line x1="428.30" y1="370.70" x2="428.30" y2="505.60" class="gd"/>
<line x1="465.60" y1="370.70" x2="465.60" y2="505.60" class="gd"/>
<line x1="316.80" y1="397.60" x2="503.90" y2="397.60" class="gd"/>
<line x1="316.80" y1="424.70" x2="503.90" y2="424.70" class="gd"/>
<line x1="316.80" y1="451.70" x2="503.90" y2="451.70" class="gd"/>
<line x1="316.80" y1="479.10" x2="503.90" y2="479.10" class="gd"/>
<line x1="444.40" y1="370.70" x2="444.40" y2="505.70" stroke="#cfcfcf" stroke-width="1"/>
<line x1="317.10" y1="379.00" x2="444.40" y2="379.00" class="dr"/>
<line x1="444.40" y1="379.00" x2="503.90" y2="379.00" class="dg"/>
<polyline points="317.40,372.01 320.25,372.03 323.11,372.06 325.96,372.09 328.82,372.11 331.67,372.14 334.52,372.17 337.38,372.19 340.23,372.22 343.08,372.25 345.94,372.28 348.79,372.31 351.65,372.34 354.50,372.37 357.35,372.40 360.21,372.43 363.06,372.46 365.92,372.50 368.77,372.53 371.62,372.57 374.48,372.61 377.33,372.65 380.18,372.70 383.04,372.75 385.89,372.80 388.75,372.86 391.60,372.92 394.45,372.99 397.31,373.07 400.16,373.16 403.02,373.26 405.87,373.37 408.72,373.51 411.58,373.65 414.43,373.83 417.28,374.02 420.14,374.26 422.99,374.52 425.85,374.83 428.70,375.20 429.32,375.29 429.95,375.38 430.57,375.47 431.19,375.57 431.82,375.67 432.44,375.77 433.06,375.88 433.69,375.99 434.31,376.10 434.94,376.22 435.56,376.34 436.18,376.47 436.81,376.60 437.43,376.74 438.05,376.88 438.68,377.03 439.30,377.18 439.92,377.34 440.55,377.50 441.17,377.67 441.79,377.84 442.42,378.02 443.04,378.21 443.66,378.41 444.29,378.61 444.91,378.81 445.54,379.03 446.16,379.25 446.78,379.48 447.41,379.72 448.03,379.97 448.65,380.23 449.28,380.49 449.90,380.77 450.52,381.05 451.15,381.35 451.77,381.65 452.39,381.97 453.02,382.29 453.64,382.63 454.26,382.98 454.89,383.35 455.51,383.72 456.14,384.11 456.76,384.51 457.38,384.93 458.01,385.36 458.63,385.81 459.25,386.27 459.88,386.75 460.50,387.25 461.12,387.76 461.75,388.29 462.37,388.84 462.99,389.41 463.62,389.99 464.24,390.60 464.86,391.23 465.49,391.88 466.11,392.55 466.74,393.25 467.36,393.97 467.98,394.71 468.61,395.48 469.23,396.27 469.85,397.09 470.48,397.94 471.10,398.82 471.72,399.72 472.35,400.66 472.97,401.62 473.59,402.62 474.22,403.65 474.84,404.72 475.46,405.82 476.09,406.95 476.71,408.12 477.34,409.33 477.96,410.58 478.58,411.86 479.21,413.19 479.83,414.55 480.45,415.96 481.08,417.42 481.70,418.92 482.32,420.46 482.95,422.05 483.57,423.69 484.19,425.37 484.82,427.11 485.44,428.90 486.06,430.74 486.69,432.64 487.31,434.58 487.94,436.59 488.56,438.65 489.18,440.77 489.81,442.95 490.43,445.19 491.05,447.49 491.68,449.85 492.30,452.27 492.92,454.76 493.55,457.32 494.17,459.94 494.79,462.63 495.42,465.39 496.04,468.22 496.66,471.12 497.29,474.09 497.91,477.13 498.54,480.25 499.16,483.44 499.78,486.71 500.41,490.05 501.03,493.47 501.65,496.97 502.28,500.54 502.90,504.20" class="cr"/>
<polyline points="317.40,504.20 320.25,501.23 323.11,498.26 325.96,495.30 328.82,492.33 331.67,489.37 334.52,486.40 337.38,483.44 340.23,480.48 343.08,477.52 345.94,474.57 348.79,471.61 351.65,468.66 354.50,465.70 357.35,462.75 360.21,459.80 363.06,456.85 365.92,453.91 368.77,450.96 371.62,448.02 374.48,445.08 377.33,442.15 380.18,439.21 383.04,436.28 385.89,433.36 388.75,430.44 391.60,427.53 394.45,424.62 397.31,421.72 400.16,418.84 403.02,415.96 405.87,413.10 408.72,410.25 411.58,407.43 414.43,404.63 417.28,401.85 420.14,399.12 422.99,396.42 425.85,393.77 428.70,391.19 429.32,390.63 429.95,390.08 430.57,389.53 431.19,388.98 431.82,388.44 432.44,387.90 433.06,387.37 433.69,386.84 434.31,386.32 434.94,385.80 435.56,385.29 436.18,384.78 436.81,384.28 437.43,383.78 438.05,383.29 438.68,382.80 439.30,382.33 439.92,381.85 440.55,381.39 441.17,380.93 441.79,380.48 442.42,380.04 443.04,379.60 443.66,379.18 444.29,378.76 444.91,378.35 445.54,377.96 446.16,377.57 446.78,377.19 447.41,376.82 448.03,376.46 448.65,376.12 449.28,375.79 449.90,375.47 450.52,375.16 451.15,374.86 451.77,374.58 452.39,374.32 453.02,374.07 453.64,373.83 454.26,373.61 454.89,373.41 455.51,373.23 456.14,373.06 456.76,372.91 457.38,372.79 458.01,372.68 458.63,372.59 459.25,372.53 459.88,372.49 460.50,372.47 461.12,372.47 461.75,372.50 462.37,372.56 462.99,372.65 463.62,372.76 464.24,372.90 464.86,373.07 465.49,373.28 466.11,373.51 466.74,373.78 467.36,374.09 467.98,374.42 468.61,374.80 469.23,375.22 469.85,375.67 470.48,376.17 471.10,376.71 471.72,377.29 472.35,377.92 472.97,378.59 473.59,379.32 474.22,380.09 474.84,380.92 475.46,381.80 476.09,382.73 476.71,383.72 477.34,384.77 477.96,385.88 478.58,387.05 479.21,388.29 479.83,389.59 480.45,390.96 481.08,392.40 481.70,393.91 482.32,395.49 482.95,397.15 483.57,398.89 484.19,400.71 484.82,402.62 485.44,404.60 486.06,406.68 486.69,408.84 487.31,411.10 487.94,413.45 488.56,415.89 489.18,418.43 489.81,421.08 490.43,423.83 491.05,426.68 491.68,429.64 492.30,432.72 492.92,435.90 493.55,439.20 494.17,442.62 494.79,446.16 495.42,449.82 496.04,453.61 496.66,457.52 497.29,461.57 497.91,465.74 498.54,470.05 499.16,474.50 499.78,479.09 500.41,483.82 501.03,488.69 501.65,493.71 502.28,498.88 502.90,504.20" class="cg"/>
<polyline points="313.10,371.90 315.30,371.90 315.30,505.60 313.10,505.60" class="ax"/>
<polyline points="508.00,371.90 505.40,371.90 505.40,505.60 508.00,505.60" class="ax"/>
<polyline points="317.30,511.50 317.30,508.30 502.80,508.30 502.80,511.50" class="bax"/>
<rect x="279.1" y="367.7" width="33.40" height="9.10" fill="#fbc31c"/>
<text transform="matrix(0.04854 0 0 0.04222 279.82338 374.97333)" class="tb">1.467 A</text>
<rect x="508.1" y="366.1" width="37.80" height="10.90" fill="#06ee0a"/>
<text transform="matrix(0.04861 0 0 0.05368 509.51109 375.03897)" class="tb">20.39 W</text>
<rect x="488.4" y="512.40" width="34.40" height="10.8" fill="#f70505"/>
<text transform="matrix(0.04889 0 0 0.05515 489.80889 521.43456)" class="tb">20.24 V</text>
<text transform="matrix(0.05128 0 0 0.05294 279.58974 508.74118)" class="tb">0.000 A</text>
<text transform="matrix(0.05016 0 0 0.05515 303.09873 519.63456)" class="tb">0.134 V</text>
<text transform="matrix(0.0492 0 0 0.05147 509.60642 508.14559)" class="tb">0.000 W</text>
<text transform="matrix(0.05409 0 0 0.05879 397.49182 528.27198)" class="tr">Voltage</text>
<text transform="matrix(0.06703 0 0 0.05652 407.1967 543.26957)" class="tc">(f)</text>
<text transform="matrix(0 -0.06156 0.05672 0 308.58657 458.09251)" class="tr">Current</text>
<text transform="matrix(0 -0.06083 0.06015 0 520.0797 454.26501)" class="tr">Power</text>
</svg>
</body></html>
